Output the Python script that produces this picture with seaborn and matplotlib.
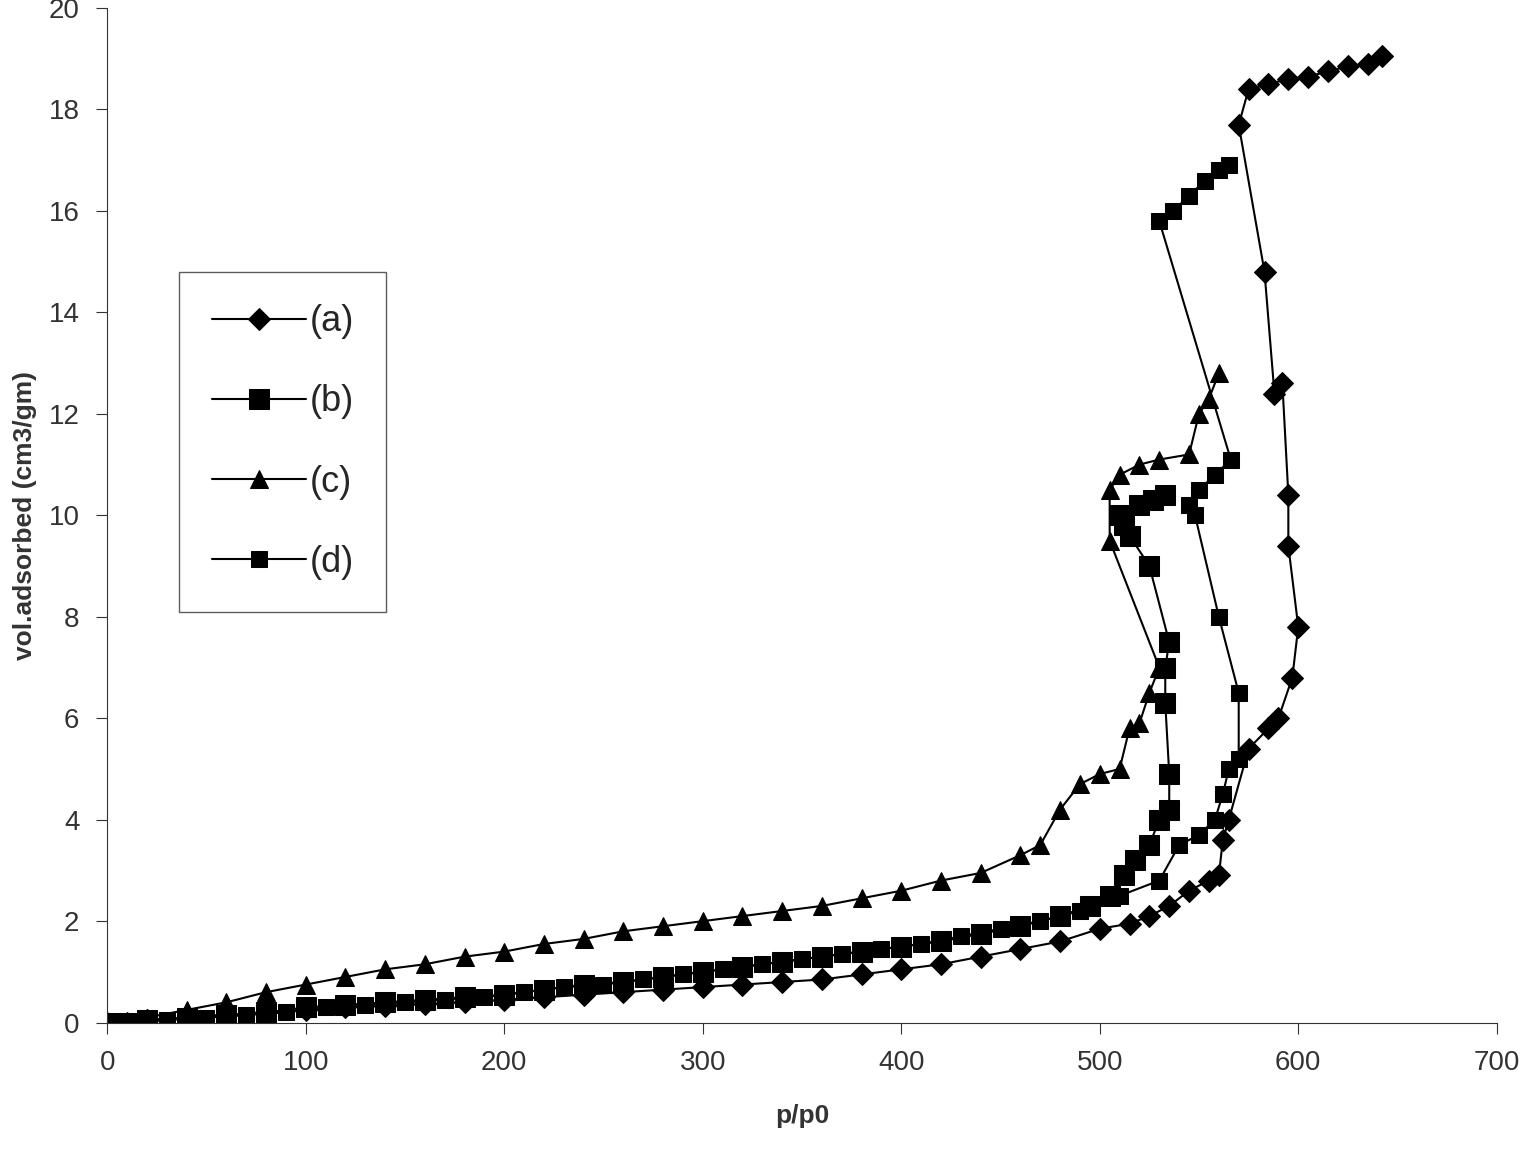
import matplotlib
matplotlib.use("Agg")
import matplotlib.pyplot as plt
import seaborn as sns

# series (a) diamonds
a_x = [0, 10, 20, 40, 60, 80, 100, 120, 140, 160, 180, 200, 220, 240, 260, 280, 300, 320, 340, 360,
       380, 400, 420, 440, 460, 480, 500, 515, 525, 535, 545, 555, 560, 562, 565, 575, 585, 590, 597, 600,
       595, 595, 592, 588, 583, 570, 575, 585, 595, 605, 615, 625, 635, 642]
a_y = [0, 0, 0.05, 0.1, 0.15, 0.2, 0.25, 0.3, 0.33, 0.37, 0.4, 0.45, 0.5, 0.55, 0.6, 0.65, 0.7, 0.75, 0.8, 0.85,
       0.95, 1.05, 1.15, 1.3, 1.45, 1.6, 1.85, 1.95, 2.1, 2.3, 2.6, 2.8, 2.9, 3.6, 4.0, 5.4, 5.8, 6.0, 6.8, 7.8,
       9.4, 10.4, 12.6, 12.4, 14.8, 17.7, 18.4, 18.5, 18.6, 18.65, 18.75, 18.85, 18.9, 19.05]

# series (b) squares
b_x = [0, 10, 20, 40, 60, 80, 100, 120, 140, 160, 180, 200, 220, 240, 260, 280, 300, 320, 340, 360,
       380, 400, 420, 440, 460, 480, 495, 505, 512, 518, 525, 530, 535, 535, 533, 533, 535, 525, 515, 512,
       510, 520, 527, 533]
b_y = [0, 0, 0.05, 0.1, 0.15, 0.2, 0.3, 0.35, 0.4, 0.45, 0.5, 0.55, 0.65, 0.75, 0.8, 0.9, 1.0, 1.1, 1.2, 1.3,
       1.4, 1.5, 1.6, 1.75, 1.9, 2.1, 2.3, 2.5, 2.9, 3.2, 3.5, 4.0, 4.2, 4.9, 6.3, 7.0, 7.5, 9.0, 9.6, 9.8,
       10.0, 10.2, 10.3, 10.4]

# series (c) triangles
c_x = [0, 20, 40, 60, 80, 100, 120, 140, 160, 180, 200, 220, 240, 260, 280, 300, 320, 340, 360, 380,
       400, 420, 440, 460, 470, 480, 490, 500, 510, 515, 520, 525, 530, 505, 505, 510, 520, 530, 545, 550,
       555, 560]
c_y = [0, 0.1, 0.25, 0.4, 0.6, 0.75, 0.9, 1.05, 1.15, 1.3, 1.4, 1.55, 1.65, 1.8, 1.9, 2.0, 2.1, 2.2, 2.3, 2.45,
       2.6, 2.8, 2.95, 3.3, 3.5, 4.2, 4.7, 4.9, 5.0, 5.8, 5.9, 6.5, 7.0, 9.5, 10.5, 10.8, 11.0, 11.1, 11.2, 12.0,
       12.3, 12.8]

# series (d)
d_x = [0, 10, 30, 50, 70, 90, 110, 130, 150, 170, 190, 210, 230, 250, 270, 290, 310, 330, 350, 370,
       390, 410, 430, 450, 470, 490, 510, 530, 540, 550, 558, 562, 565, 570, 570, 560, 548, 545, 550, 558,
       566, 530, 537, 545, 553, 560, 565]
d_y = [0, 0, 0.05, 0.1, 0.15, 0.2, 0.3, 0.35, 0.4, 0.45, 0.5, 0.6, 0.7, 0.75, 0.85, 0.95, 1.05, 1.15, 1.25, 1.35,
       1.45, 1.55, 1.7, 1.85, 2.0, 2.2, 2.5, 2.8, 3.5, 3.7, 4.0, 4.5, 5.0, 5.2, 6.5, 8.0, 10.0, 10.2, 10.5, 10.8,
       11.1, 15.8, 16.0, 16.3, 16.6, 16.8, 16.9]

labels = ["(a)", "(b)", "(c)", "(d)"]

sns.set_style("ticks")
plt.rcParams['font.family'] = ['Liberation Sans', 'DejaVu Sans']

fig = plt.figure(figsize=(15.32, 11.49), dpi=100)
ax = fig.add_axes([0.07, 0.11, 0.907, 0.883])

series = [(a_x, a_y, "D", 11), (b_x, b_y, "s", 14), (c_x, c_y, "^", 13), (d_x, d_y, "s", 12)]
for (xs, ys, m, ms), lab in zip(series, labels):
    sns.lineplot(x=xs, y=ys, sort=False, estimator=None, ax=ax, color="black", lw=1.5,
                 marker=m, markersize=ms, markeredgecolor="black", label=lab)

ax.set_xlim(0, 700)
ax.set_ylim(0, 20)
ax.set_xticks(range(0, 701, 100))
ax.set_yticks(range(0, 21, 2))
ax.tick_params(labelsize=20, direction="out", length=8, pad=12, color="#333333", labelcolor="#333333")
ax.set_xlabel("p/p0", fontsize=19, fontweight="bold", color="#333333", labelpad=20)
ax.set_ylabel("vol.adsorbed (cm3/gm)", fontsize=19, fontweight="bold", color="#333333", labelpad=8)
sns.despine(ax=ax)
for s in ["left", "bottom"]:
    ax.spines[s].set_color("#333333")

leg = ax.legend(loc="upper left", bbox_to_anchor=(0.052, 0.74), fontsize=26, frameon=True,
                fancybox=False, edgecolor="#333333", labelspacing=1.25, handlelength=2.6,
                handletextpad=0.1, borderpad=0.9, borderaxespad=0)
leg.get_frame().set_linewidth(1.0)

fig.savefig("out.png", dpi=100)
